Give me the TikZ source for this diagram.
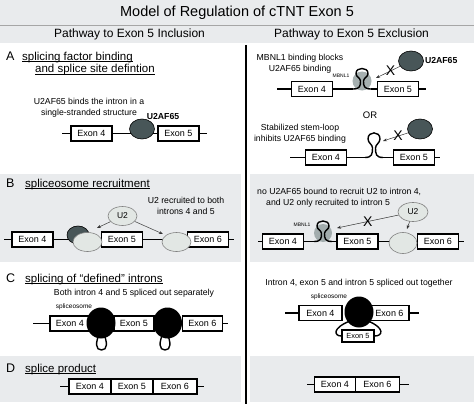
\documentclass[tikz,border=0pt]{standalone}
\usepackage{fontspec}
\setmainfont{Liberation Sans}
\usetikzlibrary{positioning,arrows.meta,shapes.geometric}
\definecolor{band}{RGB}{233,235,237}
\definecolor{u2afgray}{RGB}{72,86,88}
\definecolor{u2fill}{RGB}{226,231,228}
\definecolor{mbnlgray}{RGB}{150,162,162}
\newcommand{\uln}[1]{\underline{\smash{#1}}}

\begin{document}
\begin{tikzpicture}[x=1pt,y=-1pt,
    exon/.style={draw, line width=1.5pt, fill=white, minimum width=41pt, minimum height=15pt, inner sep=0pt, font=\fontsize{9}{9}\selectfont},
    intron/.style={line width=1.4pt},
    u2af/.style={ellipse, draw=black, line width=0.6pt, fill=u2afgray, minimum width=25pt, minimum height=20pt, inner sep=0pt},
    u2/.style={ellipse, draw=gray, line width=0.6pt, fill=u2fill, minimum width=29pt, minimum height=19pt, inner sep=0pt, font=\fontsize{8.5}{9}\selectfont},
    mbnl/.style={circle, fill=mbnlgray, opacity=0.85, minimum size=19pt, inner sep=0pt},
    sploso/.style={ellipse, fill=black, minimum width=29pt, minimum height=31pt, inner sep=0pt},
    recruit/.style={-{Stealth[length=4pt,width=3pt]}, line width=0.5pt, draw=black!80},
    nox/.style={font=\fontsize{14}{14}\selectfont, inner sep=0pt},
    lbl/.style={anchor=base west, inner sep=0pt, font=\fontsize{12.5}{13}\selectfont},
    sec/.style={anchor=base west, inner sep=0pt, font=\fontsize{11.5}{13}\selectfont},
    note/.style={align=center, inner sep=0pt, font=\fontsize{8.7}{11}\selectfont},
    lab/.style={inner sep=1pt, font=\fontsize{8.7}{9}\bfseries\selectfont},
    minor/.style={inner sep=0pt, font=\fontsize{5}{6}\selectfont},
    stemloop/.pic={
        \draw[intron] (-9,0) .. controls (-2,0) and (-1.5,-3) .. (-1.5,-8) .. controls (-1.5,-11) and (-6,-12) .. (-6,-15.5) .. controls (-6,-19) and (-3,-20.5) .. (0,-20.5) .. controls (3,-20.5) and (6,-19) .. (6,-15.5) .. controls (6,-12) and (1.5,-11) .. (1.5,-8) .. controls (1.5,-3) and (2,0) .. (9,0);
        \coordinate (-l) at (-9,0);
        \coordinate (-r) at (9,0);
    }]
    \useasboundingbox (0,0) rectangle (474,404);
    \fill[band] (0,0) rectangle (474,25);
    \draw[gray!70, line width=0.8pt] (0,25.5) -- (474,25.5);
    \fill[band] (0,26) rectangle (474,43);
    \fill[band] (0,174) rectangle (241,262);
    \fill[band] (250,174) rectangle (474,262);
    \fill[band] (0,356) rectangle (241,402);
    \fill[band] (250,356) rectangle (474,402);
    \draw[line width=1.2pt] (246,45) -- (246,404);

    \node[font=\fontsize{14.5}{16}\selectfont] (title) at (237,12.5) {Model of Regulation of cTNT Exon 5};
    \node[font=\fontsize{12}{14}\selectfont] (incl) at (129.5,34) {Pathway to Exon 5 Inclusion};
    \node[font=\fontsize{12}{14}\selectfont] (excl) at (351.5,34) {Pathway to Exon 5 Exclusion};

    % A
    \node[lbl] (labA) at (6,61) {A};
    \node[sec] (hA1) at (22,60) {\uln{splicing factor binding}};
    \node[sec] (hA2) at (35,73) {\uln{and splice site defintion}};

    \node[note] (tA) at (89,107.5) {U2AF65 binds the intron in a\\single-stranded structure};
    \node[exon] (a4) at (91.5,133.5) {Exon 4};
    \node[exon] (a5) at (178.5,133.5) {Exon 5};
    \coordinate (aL) at (62,133.5);
    \coordinate (aR) at (207,133.5);
    \draw[intron] (aL) -- (a4) -- (a5) -- (aR);
    \node[u2af] (au) at (142,129) {};
    \node[lab] (aut) at (163,117) {U2AF65};

    \node[note] (tM) at (300,63.5) {MBNL1 binding blocks\\U2AF65 binding};
    \node[exon] (m4) at (312,89) {Exon 4};
    \node[exon] (m5) at (398,89) {Exon 5};
    \coordinate (mL) at (277,89);
    \coordinate (mR) at (426,89);
    \node[mbnl] (mb) at (362,81) {};
    \node[minor] (mbt) at (341,76) {MBNL1};
    \pic (mh) at (362,89) {stemloop};
    \draw[intron] (mL) -- (m4) -- (mh-l) (mh-r) -- (m5) -- (mR);
    \node[u2af] (mu) at (411,61) {};
    \node[lab, anchor=west] (mut) at (mu.east) {U2AF65};
    \coordinate (mt) at (376,78);
    \draw[recruit] (mu) -- (mt) node[nox, pos=0.4] {X};

    \node[note, font=\fontsize{9.5}{11}\selectfont] (or) at (370,115) {OR};

    \node[note] (tS) at (300,133.5) {Stabilized stem-loop\\inhibits U2AF65 binding};
    \node[exon] (s4) at (326,157.5) {Exon 4};
    \node[exon] (s5) at (414,157.5) {Exon 5};
    \coordinate (sL) at (290,157.5);
    \coordinate (sR) at (440,157.5);
    \pic[yscale=1.2] (sh) at (374,157.5) {stemloop};
    \draw[intron] (sL) -- (s4) -- (sh-l) (sh-r) -- (s5) -- (sR);
    \node[u2af] (su) at (420,129) {};
    \coordinate (st) at (383,141);
    \draw[recruit] (su) -- (st) node[nox, pos=0.4] {X};

    % B
    \node[lbl] (labB) at (6,187) {B};
    \node[sec] (hB) at (25,187) {\uln{spliceosome recruitment}};

    \node[note] (tB) at (186,206) {U2 recruited to both\\introns 4 and 5};
    \node[exon] (b4) at (32.5,239.5) {Exon 4};
    \node[exon] (b5) at (122,239.5) {Exon 5};
    \node[exon] (b6) at (208,239.5) {Exon 6};
    \coordinate (bL) at (4,239.5);
    \coordinate (bR) at (234,239.5);
    \draw[intron] (bL) -- (b4) -- (b5) -- (b6) -- (bR);
    \node[u2af, minimum width=22pt, minimum height=18pt] (b65) at (78,235) {};
    \node[u2] (bu1) at (87.5,242) {};
    \node[u2] (bu2) at (176.5,242) {};
    \node[u2] (bu) at (122.5,216) {U2};
    \coordinate (bt1) at (97,228);
    \coordinate (bt2) at (163,234);
    \draw[recruit] (bu) -- (bt1);
    \draw[recruit] (bu) -- (bt2);

    \node[note, align=left, anchor=west] (tN) at (257,198) {no U2AF65 bound to recruit U2 to intron 4,\\\hspace*{9pt}and U2 only recruited to intron 5};
    \node[exon] (n4) at (283,241.5) {Exon 4};
    \node[exon] (n5) at (357.5,241.5) {Exon 5};
    \node[exon] (n6) at (438,241.5) {Exon 6};
    \coordinate (nL) at (258,241.5);
    \coordinate (nR) at (464,241.5);
    \node[mbnl, minimum size=18pt] (nb) at (323,233) {};
    \node[minor] (nbt) at (302,225) {MBNL1};
    \pic (nh) at (323,241.5) {stemloop};
    \draw[intron] (nL) -- (n4) -- (nh-l) (nh-r) -- (n5) -- (n6) -- (nR);
    \node[u2, minimum width=28pt, minimum height=21pt] (nu1) at (403,243) {};
    \node[u2, minimum width=30pt] (nu) at (413,212) {U2};
    \coordinate (nt1) at (407,229);
    \coordinate (nt2) at (337,228);
    \draw[recruit] (nu) -- (nt1);
    \draw[recruit] (nu) -- (nt2) node[nox, pos=0.5] {X};

    % C
    \node[lbl] (labC) at (6,282) {C};
    \node[sec] (hC) at (25,282) {\uln{splicing of “defined” introns}};

    \node[note] (tC) at (134,293) {Both intron 4 and 5 spliced out separately};
    \node[minor, font=\fontsize{6.5}{7}\selectfont] (cst) at (74,307) {spliceosome};
    \node[exon, minimum width=40pt] (c4) at (70,323.5) {Exon 4};
    \node[exon, minimum width=40pt] (c5) at (134,323.5) {Exon 5};
    \node[exon, minimum width=40pt] (c6) at (202.5,323.5) {Exon 6};
    \coordinate (cL) at (33,323.5);
    \coordinate (cR) at (228,323.5);
    \draw[intron] (cL) -- (c4) -- (c5) -- (c6) -- (cR);
    \draw[intron] (100,332) .. controls (95,343) and (95.5,350) .. (101.5,350) .. controls (107.5,350) and (108,343) .. (103,332);
    \draw[intron] (163.5,332) .. controls (158.5,343) and (159,350) .. (165,350) .. controls (171,350) and (171.5,343) .. (166.5,332);
    \node[sploso] (cs1) at (101,323) {};
    \node[sploso] (cs2) at (167.5,323) {};

    \node[note] (tT) at (359,283) {Intron 4, exon 5 and intron 5 spliced out together};
    \node[minor, font=\fontsize{6.5}{7}\selectfont] (tst) at (329,297) {spliceosome};
    \node[exon, minimum width=43pt] (t4) at (320.5,313) {Exon 4};
    \node[exon, minimum width=39pt] (t6) at (389.5,313) {Exon 6};
    \coordinate (tL) at (285,313);
    \coordinate (tR) at (419,313);
    \draw[intron] (tL) -- (t4) (t6) -- (tR);
    \node[exon, minimum width=32pt, minimum height=12pt, font=\fontsize{7.4}{8}\selectfont] (t5) at (358,336) {Exon 5};
    \draw[intron] (350,321) .. controls (332,328) and (334,336) .. (t5.west);
    \draw[intron] (368,321) .. controls (385,328) and (383,336) .. (t5.east);
    \node[sploso] (ts) at (359,312) {};

    % D
    \node[lbl] (labD) at (6,372) {D};
    \node[sec] (hD) at (25,372) {\uln{splice product}};

    \node[exon, minimum width=42pt] (d4) at (90,386.5) {Exon 4};
    \node[exon, minimum width=42pt, right=-1.5pt of d4] (d5) {Exon 5};
    \node[exon, minimum width=44pt, right=-1.5pt of d5] (d6) {Exon 6};
    \coordinate (dL) at (60,386.5);
    \coordinate (dR) at (204,386.5);
    \draw[intron] (dL) -- (d4) (d6) -- (dR);

    \node[exon, minimum width=41pt] (p4) at (335,384.5) {Exon 4};
    \node[exon, minimum width=44pt, right=-1.5pt of p4] (p6) {Exon 6};
    \coordinate (pL) at (307,384.5);
    \coordinate (pR) at (409,384.5);
    \draw[intron] (pL) -- (p4) (p6) -- (pR);
\end{tikzpicture}
\end{document}
